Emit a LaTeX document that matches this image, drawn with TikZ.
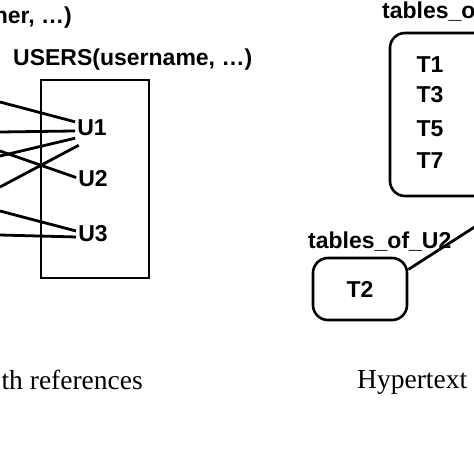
\documentclass[tikz,border=0pt]{standalone}
\usepackage{fontspec}
\setmainfont{Liberation Serif}
\newfontfamily\diagfont{Liberation Sans}
\usepackage{tikz}
\tikzset{
	entry/.style={font=\diagfont\bfseries\fontsize{23}{27}\selectfont, inner sep=2pt},
	setname/.style={font=\diagfont\bfseries\fontsize{23}{27}\selectfont, inner sep=0pt},
	caption/.style={font=\fontsize{27.5}{32}\selectfont, inner sep=0pt},
	ref/.style={line width=2.8pt},
	frame/.style={line width=2.6pt},
}

\begin{document}
\begin{tikzpicture}[x=1pt, y=-1pt]
		%%%%% START %%%%%
		\useasboundingbox (0, 0) rectangle (474, 474);
		
		% left part: users table
		\node[setname, anchor=base east] (tabhead) at (72, 23) {ner, …)};
		\node[setname, anchor=base west] (userhead) at (13, 65) {USERS(username, …)};
		\draw[frame] (41, 80) rectangle (149, 278);
		
		\node[entry] (U1) at (92, 128) {U1};
		\node[entry] (U2) at (93, 179) {U2};
		\node[entry] (U3) at (93, 234) {U3};
		
		\coordinate (r1) at (0, 102);
		\coordinate (r2) at (0, 132);
		\coordinate (r3) at (0, 156);
		\coordinate (r4) at (0, 151);
		\coordinate (r5) at (0, 187);
		\coordinate (r6) at (0, 211);
		\coordinate (r7) at (0, 235);
		
		\draw[ref] (r1) -- (U1.160);
		\draw[ref] (r2) -- (U1.190);
		\draw[ref] (r3) -- (U1.south west);
		\draw[ref] (r4) -- (U2.175);
		\draw[ref, shorten >=15pt] (r5) -- (U1.south);
		\draw[ref] (r6) -- (U3.170);
		\draw[ref] (r7) -- (U3.190);
		
		% right part: hypertext sets
		\node[setname, anchor=base west] (sethead) at (382, 18) {tables\_o};
		\draw[frame, rounded corners=15pt] (390, 33) rectangle (505, 196);
		\node[entry] (T1) at (430, 65) {T1};
		\node[entry] (T3) at (430, 95) {T3};
		\node[entry] (T5) at (430, 129) {T5};
		\node[entry] (T7) at (430, 161) {T7};
		
		\node[setname, anchor=base west] (u2head) at (308, 248) {tables\_of\_U2};
		\node[entry, draw, frame, rounded corners=15pt, minimum width=94pt, minimum height=62pt] (T2) at (360, 289) {T2};
		\coordinate (link) at (498, 212);
		\draw[ref] (T2.22) -- (link);
		
		% captions
		\node[caption, anchor=base east] (capleft) at (143, 389) {th references};
		\node[caption, anchor=base west] (capright) at (357, 388) {Hypertext};
		
		%%%%% END %%%%%
\end{tikzpicture}
\end{document}
